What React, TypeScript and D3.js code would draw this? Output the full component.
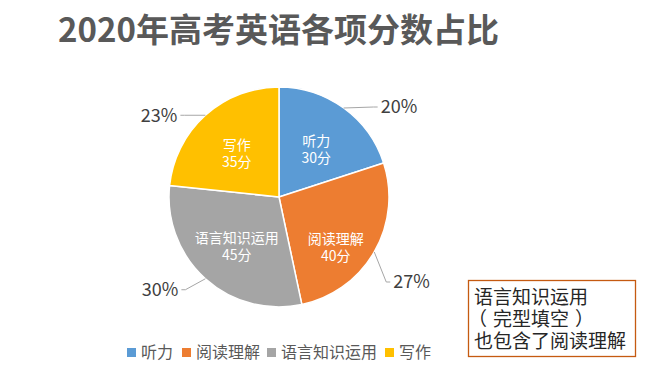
import React, { useEffect, useRef } from 'react';
import * as d3 from 'd3';

const categories = ['听力', '阅读理解', '语言知识运用', '写作'];
const scores = [30, 40, 45, 35];
const colors = ['#5B9BD5', '#ED7D31', '#A5A5A5', '#FFC000'];
const noteLines = ['语言知识运用', '（完型填空）', '也包含了阅读理解'];

// where the percent label sits relative to the slice's outer mid point
const labelNudge: [number, number][] = [[37, -1], [19, 30], [-27, 11], [-28, 0]];
// small shifts for the inside labels (Excel "best fit" placement)
const innerNudge: [number, number][] = [[0, 4], [2, 19], [0, 3], [0, 4]];

const FONT = '"Noto Sans CJK SC", "Microsoft YaHei", sans-serif';

export default function App() {
  const svgRef = useRef<SVGSVGElement>(null);

  useEffect(() => {
    if (!svgRef.current) return;
    const svg = d3.select(svgRef.current);
    svg.selectAll('*').remove();

    const width = 650;
    const height = 374;
    const cx = 279;
    const cy = 197;
    const radius = 110;

    svg.attr('width', width).attr('height', height);
    svg.append('rect').attr('width', width).attr('height', height).attr('fill', '#fff');

    // Title
    svg.append('text')
      .attr('x', 58)
      .attr('y', 42)
      .attr('font-family', FONT)
      .attr('font-weight', 'bold')
      .attr('font-size', 33)
      .attr('fill', '#595959')
      .text('2020年高考英语各项分数占比');

    const total = d3.sum(scores);
    const pie = d3.pie<number>().sort(null).value(d => d);
    const arcs = pie(scores);
    const arc = d3.arc<d3.PieArcDatum<number>>().innerRadius(0).outerRadius(radius);

    const g = svg.append('g').attr('transform', `translate(${cx},${cy})`);

    g.selectAll('path.slice')
      .data(arcs)
      .enter()
      .append('path')
      .attr('class', 'slice')
      .attr('d', arc)
      .attr('fill', (d, i) => colors[i])
      .attr('stroke', '#fff')
      .attr('stroke-width', 1.5);

    // inside labels
    const inner = d3.arc<d3.PieArcDatum<number>>().innerRadius(0).outerRadius(radius * 1.15);
    arcs.forEach((d, i) => {
      const [cx0, cy0] = inner.centroid(d);
      const x = cx0 + innerNudge[i][0];
      const y = cy0 + innerNudge[i][1];
      const t = g.append('text')
        .attr('text-anchor', 'middle')
        .attr('font-family', FONT)
        .attr('font-size', 14)
        .attr('fill', '#fff');
      t.append('tspan').attr('x', x).attr('y', y - 4).text(categories[i]);
      t.append('tspan').attr('x', x).attr('y', y + 13).text(`${scores[i]}分`);
    });

    // outside percent labels with leader lines
    arcs.forEach((d, i) => {
      const mid = (d.startAngle + d.endAngle) / 2;
      const px = radius * Math.sin(mid);
      const py = -radius * Math.cos(mid);
      const [nx, ny] = labelNudge[i];
      const lx = px + nx;
      const ly = py + ny;
      const right = nx > 0;
      const endX = right ? lx - 3 : lx + 3;
      const pts: [number, number][] = [[px, py], [endX + (right ? -4 : 4), ly], [endX, ly]];
      g.append('path')
        .attr('d', d3.line()(pts))
        .attr('fill', 'none')
        .attr('stroke', '#A6A6A6')
        .attr('stroke-width', 1);
      g.append('text')
        .attr('x', lx)
        .attr('y', ly)
        .attr('dy', '0.35em')
        .attr('text-anchor', right ? 'start' : 'end')
        .attr('font-family', FONT)
        .attr('font-size', 18)
        .attr('fill', '#404040')
        .text(`${Math.round((scores[i] / total) * 100)}%`);
    });

    // legend
    const legendX = [127, 182, 267, 385];
    const legend = svg.append('g');
    categories.forEach((c, i) => {
      legend.append('rect')
        .attr('x', legendX[i])
        .attr('y', 348)
        .attr('width', 9)
        .attr('height', 9)
        .attr('fill', colors[i]);
      legend.append('text')
        .attr('x', legendX[i] + 14)
        .attr('y', 358)
        .attr('font-family', FONT)
        .attr('font-size', 16)
        .attr('fill', '#595959')
        .text(c);
    });

    // note box
    svg.append('rect')
      .attr('x', 468.5)
      .attr('y', 280.5)
      .attr('width', 167)
      .attr('height', 76)
      .attr('fill', '#fff')
      .attr('stroke', '#C55A11')
      .attr('stroke-width', 1.3);
    noteLines.forEach((line, i) => {
      const t = svg.append('text')
        .attr('y', 304 + i * 22)
        .attr('font-family', FONT)
        .attr('font-size', 19)
        .attr('fill', '#262626');
      if (line.startsWith('（')) {
        // spread parentheses like the original text box
        t.append('tspan').attr('x', 468).text('（');
        t.append('tspan').attr('x', 493).text(line.slice(1, -1));
        t.append('tspan').attr('x', 575).text('）');
      } else {
        t.attr('x', 474).text(line);
      }
    });
  }, []);

  return (
    <svg ref={svgRef} style={{ position: 'absolute', left: 0, top: 0, display: 'block' }}></svg>
  );
}
